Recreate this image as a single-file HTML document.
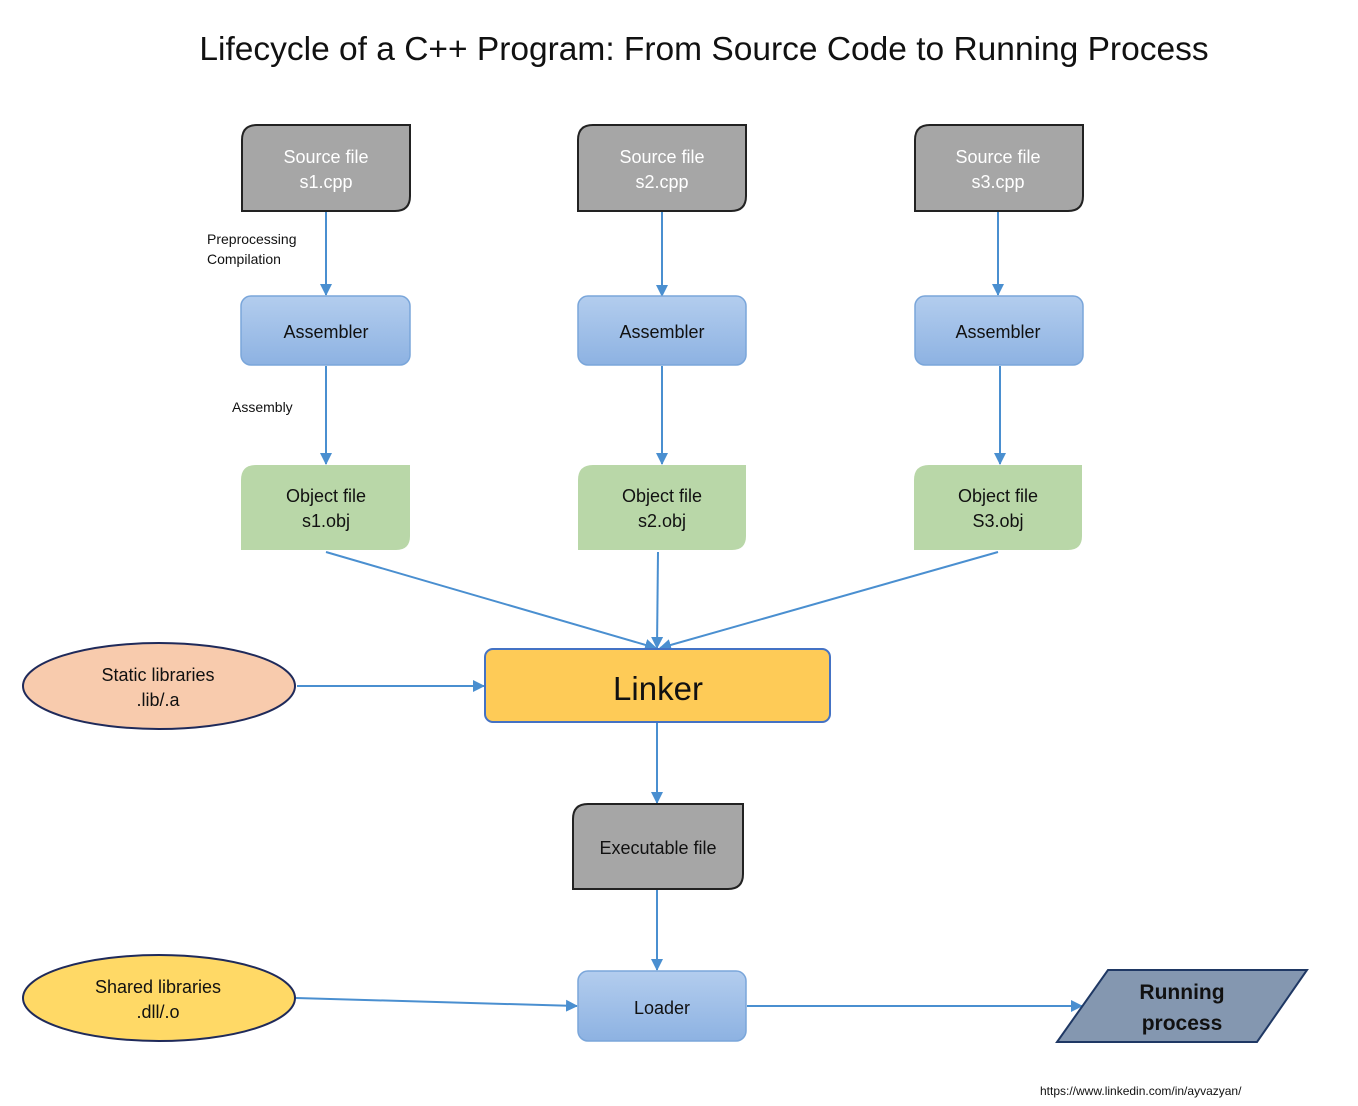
<!DOCTYPE html>
<html><head><meta charset="utf-8"><style>body{margin:0;background:#fff}svg{display:block}text{font-family:"Liberation Sans",sans-serif}</style></head>
<body>
<svg width="1358" height="1106" viewBox="0 0 1358 1106" xmlns="http://www.w3.org/2000/svg">
<defs>
<linearGradient id="bl" x1="0" y1="0" x2="0" y2="1"><stop offset="0" stop-color="#b3cdee"/><stop offset="1" stop-color="#8db2e2"/></linearGradient>
<marker id="a" markerWidth="12" markerHeight="12" refX="11" refY="6" orient="auto" markerUnits="userSpaceOnUse"><path d="M0,0 L12,6 L0,12 z" fill="#4a8fd0"/></marker>
</defs>
<text x="704" y="60" font-size="33.5" text-anchor="middle" fill="#111">Lifecycle of a C++ Program: From Source Code to Running Process</text>
<g stroke="#4a8fd0" stroke-width="2" fill="none" marker-end="url(#a)">
<line x1="326" y1="212" x2="326" y2="295"/><line x1="662" y1="212" x2="662" y2="296"/><line x1="998" y1="212" x2="998" y2="295"/>
<line x1="326" y1="366" x2="326" y2="464"/><line x1="662" y1="366" x2="662" y2="464"/><line x1="1000" y1="366" x2="1000" y2="464"/>
<line x1="326" y1="552" x2="656" y2="648"/><line x1="658" y1="552" x2="657" y2="648"/><line x1="998" y1="552" x2="660" y2="648"/>
<line x1="297" y1="686" x2="484" y2="686"/>
<line x1="657" y1="723" x2="657" y2="803"/><line x1="657" y1="890" x2="657" y2="970"/>
<line x1="296" y1="998" x2="577" y2="1006"/><line x1="747" y1="1006" x2="1082" y2="1006"/>
</g>
<g fill="#a6a6a6" stroke="#222" stroke-width="2">
<path d="M257,125 H410 V196 Q410,211 395,211 H242 V140 Q242,125 257,125 Z"/>
<path d="M593,125 H746 V196 Q746,211 731,211 H578 V140 Q578,125 593,125 Z"/>
<path d="M930,125 H1083 V196 Q1083,211 1068,211 H915 V140 Q915,125 930,125 Z"/>
<path d="M588,804 H743 V874 Q743,889 728,889 H573 V819 Q573,804 588,804 Z"/>
</g>
<g fill="#fff" font-size="18" text-anchor="middle">
<text x="326" y="163">Source file</text><text x="326" y="188">s1.cpp</text>
<text x="662" y="163">Source file</text><text x="662" y="188">s2.cpp</text>
<text x="998" y="163">Source file</text><text x="998" y="188">s3.cpp</text>
</g>
<g fill="url(#bl)" stroke="#7aa6da" stroke-width="1.5">
<rect x="241" y="296" width="169" height="69" rx="10"/><rect x="578" y="296" width="168" height="69" rx="10"/><rect x="915" y="296" width="168" height="69" rx="10"/>
<rect x="578" y="971" width="168" height="70" rx="10"/>
</g>
<g fill="#b9d7a8">
<path d="M256,465 H410 V536 Q410,550 396,550 H241 V480 Q241,465 256,465 Z"/>
<path d="M593,465 H746 V536 Q746,550 732,550 H578 V480 Q578,465 593,465 Z"/>
<path d="M929,465 H1082 V536 Q1082,550 1068,550 H914 V480 Q914,465 929,465 Z"/>
</g>
<rect x="485" y="649" width="345" height="73" rx="8" fill="#fecb57" stroke="#4472c4" stroke-width="2"/>
<ellipse cx="159" cy="686" rx="136" ry="43" fill="#f8cbad" stroke="#1f2a5a" stroke-width="2"/>
<ellipse cx="159" cy="998" rx="136" ry="43" fill="#ffd966" stroke="#1f2a5a" stroke-width="2"/>
<polygon points="1108,970 1307,970 1257,1042 1057,1042" fill="#8497b0" stroke="#1f3864" stroke-width="2"/>
<g fill="#111" font-size="18" text-anchor="middle">
<text x="326" y="338">Assembler</text><text x="662" y="338">Assembler</text><text x="998" y="338">Assembler</text>
<text x="326" y="502">Object file</text><text x="326" y="527">s1.obj</text>
<text x="662" y="502">Object file</text><text x="662" y="527">s2.obj</text>
<text x="998" y="502">Object file</text><text x="998" y="527">S3.obj</text>
<text x="658" y="700" font-size="33">Linker</text>
<text x="158" y="681">Static libraries</text><text x="158" y="706">.lib/.a</text>
<text x="158" y="993">Shared libraries</text><text x="158" y="1018">.dll/.o</text>
<text x="658" y="854">Executable file</text>
<text x="662" y="1014">Loader</text>
<text x="1182" y="999" font-size="21" font-weight="bold">Running</text>
<text x="1182" y="1030" font-size="21" font-weight="bold">process</text>
</g>
<g fill="#111" font-size="14">
<text x="207" y="244">Preprocessing</text><text x="207" y="264">Compilation</text>
<text x="232" y="412">Assembly</text>
<text x="1040" y="1095" font-size="12">https://www.linkedin.com/in/ayvazyan/</text>
</g>
</svg>
</body></html>
